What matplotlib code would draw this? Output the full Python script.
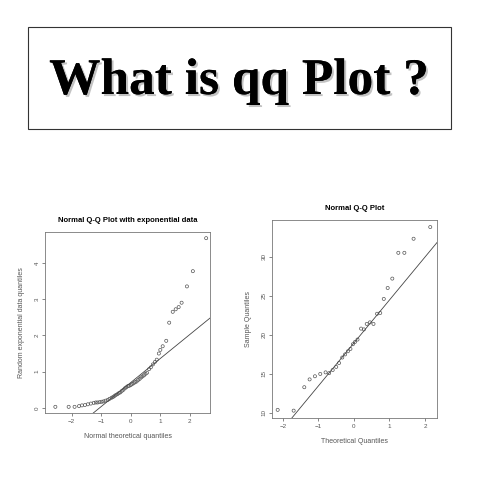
import matplotlib
matplotlib.use("Agg")
import matplotlib.pyplot as plt
from matplotlib.patches import Rectangle
import matplotlib.patheffects as pe

title_text = "What is qq Plot ?"
left_title = "Normal Q-Q Plot with exponential data"
left_xlabel = "Normal theoretical quantiles"
left_ylabel = "Random exponential data quantiles"
left_x = [-2.55,-2.1,-1.9,-1.75,-1.65,-1.55,-1.45,-1.35,-1.25,-1.18,-1.12,-1.05,-0.98,-0.92,-0.85,-0.78,-0.72,-0.65,-0.6,-0.55,-0.5,-0.45,-0.4,-0.35,-0.3,-0.25,-0.2,-0.15,-0.1,-0.05,0,0.05,0.1,0.15,0.2,0.25,0.3,0.35,0.4,0.45,0.5,0.55,0.62,0.68,0.75,0.82,0.88,0.95,1.0,1.08,1.2,1.3,1.42,1.52,1.62,1.72,1.9,2.1,2.55]
left_y = [0.03,0.03,0.03,0.05,0.07,0.08,0.1,0.12,0.14,0.15,0.15,0.16,0.17,0.18,0.2,0.22,0.25,0.28,0.3,0.33,0.36,0.38,0.41,0.43,0.47,0.5,0.54,0.57,0.6,0.61,0.63,0.66,0.68,0.71,0.73,0.77,0.8,0.84,0.87,0.9,0.94,0.97,1.07,1.12,1.2,1.27,1.33,1.5,1.6,1.7,1.85,2.35,2.65,2.72,2.78,2.9,3.35,3.77,4.68]
left_line = (0.70, 0.663)
left_xticks = [-2, -1, 0, 1, 2]
left_yticks = [0, 1, 2, 3, 4]

right_title = "Normal Q-Q Plot"
right_xlabel = "Theoretical Quantiles"
right_ylabel = "Sample Quantiles"
right_x = [-2.15,-1.7,-1.4,-1.25,-1.1,-0.95,-0.8,-0.7,-0.6,-0.5,-0.42,-0.33,-0.25,-0.17,-0.1,-0.03,0.03,0.1,0.2,0.28,0.36,0.45,0.55,0.65,0.74,0.84,0.95,1.08,1.25,1.42,1.68,2.15]
right_y = [10.4,10.3,13.3,14.3,14.7,15.0,15.2,15.1,15.5,15.9,16.4,17.1,17.5,17.9,18.2,18.8,19.1,19.4,20.8,20.7,21.4,21.6,21.4,22.7,22.8,24.6,26.0,27.2,30.5,30.5,32.3,33.8]
right_line = (18.97, 5.49)
right_xticks = [-2, -1, 0, 1, 2]
right_yticks = [10, 15, 20, 25, 30]

plt.rcParams['font.family'] = ['Liberation Sans', 'DejaVu Sans']
W = H = 480
fig = plt.figure(figsize=(4.8, 4.8), dpi=100)

def fr(x0, y0, x1, y1):
    return [x0 / W, 1 - y1 / H, (x1 - x0) / W, (y1 - y0) / H]

fig.patches.append(Rectangle((28 / W, 1 - 129 / H), 423 / W, 102 / H, transform=fig.transFigure,
                             fill=False, edgecolor='#333333', linewidth=0.8))
fig.text(239 / W, 1 - 82 / H, title_text, ha='center', va='center', fontsize=37,
         family='Liberation Serif', fontweight='bold',
         path_effects=[pe.withSimplePatchShadow(offset=(1.5, -1.5), shadow_rgbFace='#aaaaaa', alpha=0.7), pe.Normal()])

def qq(rect, xs, ys, line, xlim, ylim, xt, yt, title, xl, yl):
    ax = fig.add_axes(rect)
    ax.scatter(xs, ys, s=5, facecolors='none', edgecolors='#555555', linewidths=0.5)
    a, b = line
    ax.plot(list(xlim), [a + b * xlim[0], a + b * xlim[1]], color='#444444', lw=0.6)
    ax.set_xlim(*xlim); ax.set_ylim(*ylim)
    ax.set_xticks(xt); ax.set_yticks(yt)
    ax.set_yticklabels([str(v) for v in yt], rotation=90, va='center')
    ax.tick_params(labelsize=4.5, colors='#555555', length=2, width=0.5, pad=2)
    for s in ax.spines.values():
        s.set_color('#777777'); s.set_linewidth(0.6)
    ax.set_title(title, fontsize=5.5, fontweight='bold', pad=7)
    ax.set_xlabel(xl, fontsize=5, color='#555555', labelpad=7)
    ax.set_ylabel(yl, fontsize=5, color='#555555', labelpad=7)
    return ax

qq(fr(45, 232, 210, 413), left_x, left_y, left_line, (-2.9, 2.68), (-0.14, 4.85),
   left_xticks, left_yticks, left_title, left_xlabel, left_ylabel)
qq(fr(272, 220, 437, 418), right_x, right_y, right_line, (-2.31, 2.34), (9.36, 34.7),
   right_xticks, right_yticks, right_title, right_xlabel, right_ylabel)

fig.savefig("out.png", dpi=100)
